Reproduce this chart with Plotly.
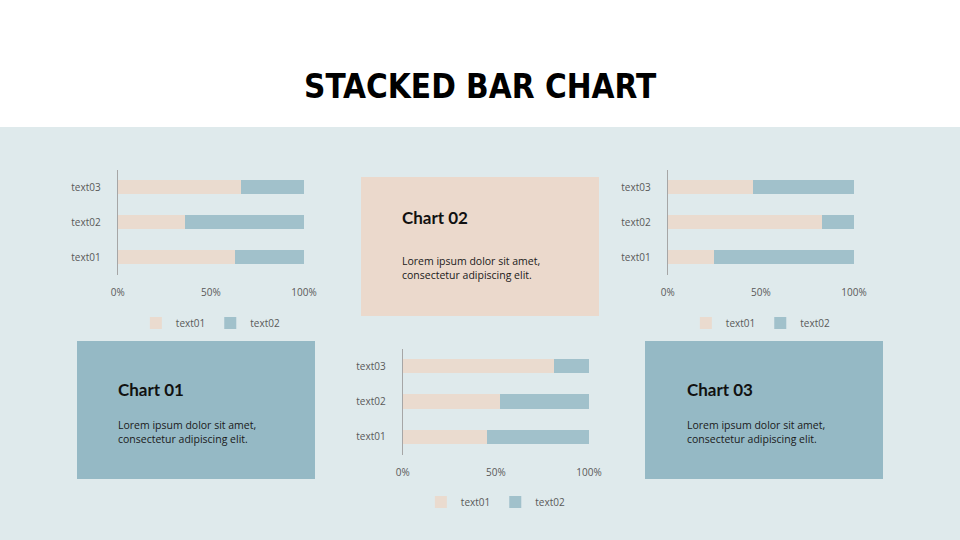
import plotly.graph_objects as go

categories = ["text01", "text02", "text03"]
series_names = ["text01", "text02"]
chart1_s1 = [0.63, 0.36, 0.66]
chart2_s1 = [0.45, 0.52, 0.81]
chart3_s1 = [0.25, 0.83, 0.46]
tick_vals = [0, 0.5, 1]
tick_text = ["0%", "50%", "100%"]

title_text = "STACKED BAR CHART"
card_titles = ["Chart 01", "Chart 02", "Chart 03"]
card_body = "Lorem ipsum dolor sit amet,<br>consectetur adipiscing elit."

C_BEIGE = "#EADBCF"
C_BLUE = "#A1C1CB"
BOX_BEIGE = "#EBD9CC"
BOX_BLUE = "#95B9C5"
BG = "#DFEAEC"
W, H = 960, 540

def px(x):
    return x / W

def py(y):
    return 1 - y / H

fig = go.Figure()

charts = [
    (chart1_s1, "x", "y", "legend", (117.7, 304), (169.5, 274.5), 323),
    (chart2_s1, "x2", "y2", "legend2", (402.7, 589), (348.5, 454.5), 502),
    (chart3_s1, "x3", "y3", "legend3", (667.7, 854), (169.5, 274.5), 323),
]

for vals, xa, ya, lg, xd, yd, ly in charts:
    s2 = [1 - v for v in vals]
    fig.add_trace(go.Bar(y=categories, x=vals, orientation="h", name=series_names[0],
                         marker=dict(color=C_BEIGE, line=dict(width=0)),
                         xaxis=xa, yaxis=ya, legend=lg, hoverinfo="skip"))
    fig.add_trace(go.Bar(y=categories, x=s2, orientation="h", name=series_names[1],
                         marker=dict(color=C_BLUE, line=dict(width=0)),
                         xaxis=xa, yaxis=ya, legend=lg, hoverinfo="skip"))

layout = dict(
    width=W, height=H, margin=dict(l=0, r=0, t=0, b=0, pad=0, autoexpand=False),
    paper_bgcolor="white", plot_bgcolor="rgba(0,0,0,0)",
    barmode="stack", bargap=0.6, showlegend=True,
    font=dict(family="Open Sans", size=10, color="#595959"),
)

for i, (vals, xa, ya, lg, xd, yd, ly) in enumerate(charts):
    sfx = "" if i == 0 else str(i + 1)
    layout["xaxis" + sfx] = dict(
        domain=[px(xd[0]), px(xd[1])], range=[0, 1], anchor=ya,
        tickvals=tick_vals, ticktext=tick_text, showgrid=False, zeroline=False,
        showline=False, ticks="outside", ticklen=8, tickcolor="rgba(0,0,0,0)",
        tickfont=dict(family="Open Sans", size=10, color="#595959"), fixedrange=True,
        automargin=False,
    )
    layout["yaxis" + sfx] = dict(
        domain=[py(yd[1]), py(yd[0])], anchor=xa, showgrid=False, zeroline=False,
        showline=True, linecolor="#A6A6A6", linewidth=1,
        ticks="outside", ticklen=14, tickcolor="rgba(0,0,0,0)",
        tickfont=dict(family="Open Sans", size=10, color="#595959"), fixedrange=True,
        categoryorder="array", categoryarray=categories, automargin=False,
    )
    layout[lg] = dict(
        orientation="h", x=px((xd[0] + xd[1]) / 2), y=py(ly), xanchor="center", yanchor="middle",
        bgcolor="rgba(0,0,0,0)", font=dict(family="Open Sans", size=10, color="#595959"),
        itemwidth=30, tracegroupgap=0, traceorder="normal",
    )

fig.update_layout(**layout)

shapes = [
    dict(type="rect", xref="paper", yref="paper", x0=0, x1=1, y0=0, y1=py(127),
         fillcolor=BG, line=dict(width=0), layer="below"),
    dict(type="rect", xref="paper", yref="paper", x0=px(361), x1=px(599), y0=py(316), y1=py(177),
         fillcolor=BOX_BEIGE, line=dict(width=0), layer="below"),
    dict(type="rect", xref="paper", yref="paper", x0=px(77), x1=px(315), y0=py(479), y1=py(341),
         fillcolor=BOX_BLUE, line=dict(width=0), layer="below"),
    dict(type="rect", xref="paper", yref="paper", x0=px(645), x1=px(883), y0=py(479), y1=py(341),
         fillcolor=BOX_BLUE, line=dict(width=0), layer="below"),
]
fig.update_layout(shapes=shapes)

annotations = [
    dict(text="<b>" + title_text + "</b>", x=0.5, y=py(87), xref="paper", yref="paper", showarrow=False,
         xanchor="center", yanchor="middle",
         font=dict(family="DejaVu Sans Condensed, Liberation Sans", size=33, color="#000000")),
]
cards = [(116, 389, 424), (400, 218, 260), (685, 389, 424)]
for t, (cx, ty, by) in zip(card_titles, cards):
    annotations.append(dict(text="<b>" + t + "</b>", x=px(cx), y=py(ty), xref="paper", yref="paper",
                            showarrow=False, xanchor="left", yanchor="middle",
                            font=dict(family="Lato", size=17, color="#111111")))
    annotations.append(dict(text=card_body, x=px(cx), y=py(by - 8), xref="paper", yref="paper",
                            showarrow=False, xanchor="left", yanchor="top", align="left",
                            font=dict(family="Open Sans", size=10.5, color="#1a1a1a")))
fig.update_layout(annotations=annotations)

fig.write_html("out.html", config={"displayModeBar": False},
               post_script="document.body.style.margin='0px';document.body.style.overflow='hidden';")
